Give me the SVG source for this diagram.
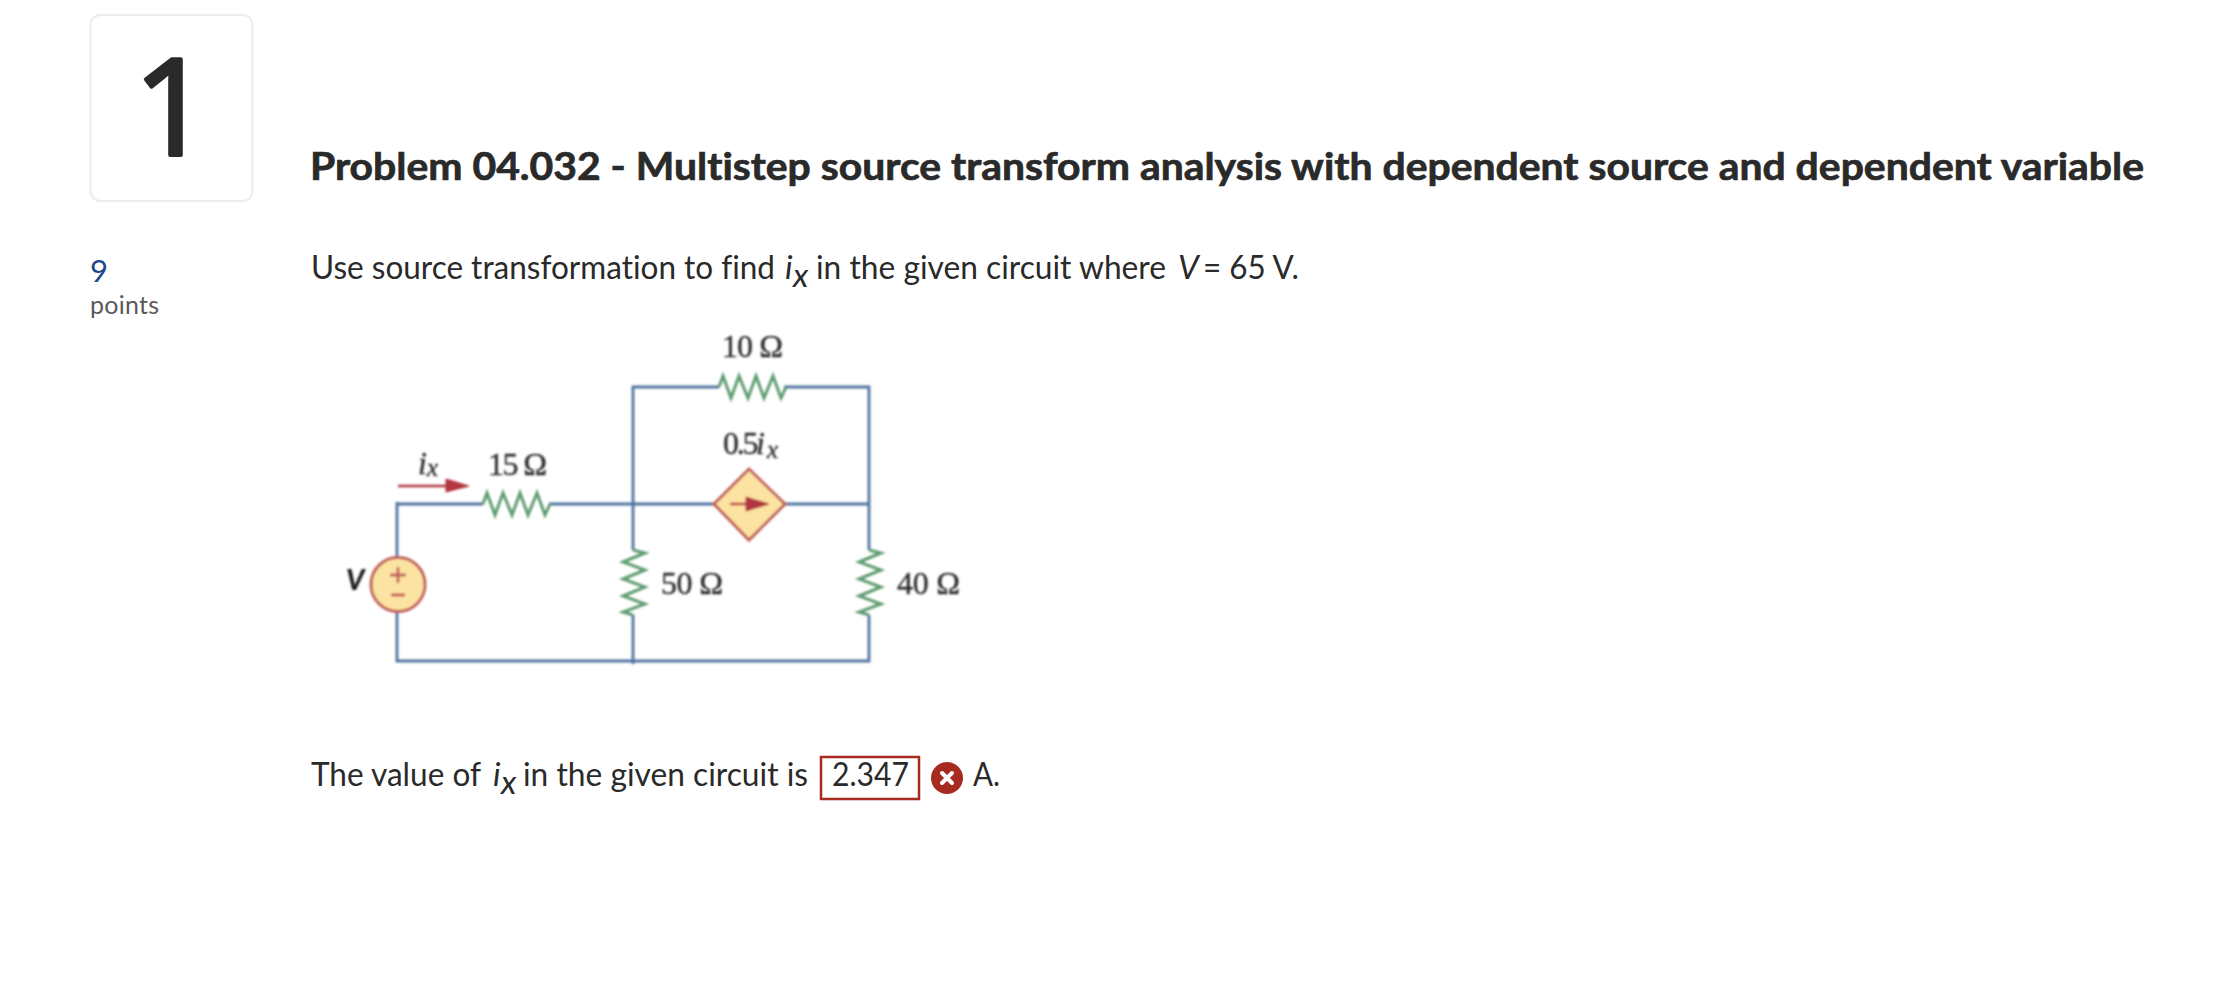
<svg xmlns="http://www.w3.org/2000/svg" width="2236" height="1004" viewBox="0 0 2236 1004">
<style>
text{font-family:"Lato","Liberation Sans",sans-serif;fill:#2a2a2a;font-variant-ligatures:none}
.body{font-size:33px}
.sub{font-size:33px;font-style:italic}
.ser{font-family:"Liberation Serif","Times New Roman",serif;font-size:32px;fill:#2e2e2e;stroke:#2e2e2e;stroke-width:.4}
.wire{fill:none;stroke:#50739f;stroke-width:2.8}
.res{fill:none;stroke:#5f9c70;stroke-width:3}
.sym{fill:#fde3a2;stroke:#c1605a;stroke-width:3}
.red{fill:#b23540;stroke:#b23540}
</style>
<defs><filter id="soft" x="-5%" y="-5%" width="110%" height="110%"><feGaussianBlur stdDeviation="0.8"/></filter></defs>
<rect width="2236" height="1004" fill="#fff"/>
<g id="number-card">
<rect x="90.500" y="15" width="162" height="186" rx="10" fill="#fff" stroke="#ececec" stroke-width="2"/>
<text x="172" y="155" text-anchor="middle" font-size="134" style="font-family:'Open Sans',sans-serif;stroke:#2a2a2a;stroke-width:4;stroke-linejoin:round">1</text>
</g>
<g id="points">
<text x="90" y="282" font-size="31" style="fill:#1f4788">9</text>
<text x="90" y="314" font-size="25" textLength="69" style="fill:#5a5a5a">points</text>
</g>
<g id="title"><text x="310" y="180" font-size="38" font-weight="700" textLength="1834" lengthAdjust="spacingAndGlyphs" style="stroke:#2a2a2a;stroke-width:.7">Problem 04.032 - Multistep source transform analysis with dependent source and dependent variable</text></g>
<g id="question">
<text class="body" x="311" y="279" style="font-size:32px" textLength="464" lengthAdjust="spacingAndGlyphs">Use source transformation to find</text>
<text class="sub" x="785" y="279">i</text>
<text class="sub" x="793" y="287">x</text>
<text class="body" x="816" y="279" textLength="350" lengthAdjust="spacingAndGlyphs">in the given circuit where</text>
<text class="sub" x="1178" y="279">V</text>
<text class="body" x="1203" y="279" textLength="96" lengthAdjust="spacingAndGlyphs">= 65 V.</text>
</g>
<g id="circuit" filter="url(#soft)">
<g id="connectors">
<path class="wire" d="M397 502V557M397 612V661H869V615M483 504H397M549 504H714M785 504H869M719 387H633V550M633 615V664M784 387H869V550"/>
</g>
<g id="r10"><path class="res" d="M719 387L723 376L731 398L739 376L748 398L756 376L764 398L773 376L781 398L786 387"/><text class="ser" x="722" y="357" textLength="61">10 Ω</text></g>
<g id="r15"><path class="res" d="M483 504L487 493L495 515L503 493L512 515L520 493L528 515L537 493L545 515L550 504"/><text class="ser" x="488" y="475" textLength="59">15 Ω</text></g>
<g id="r50"><path class="res" d="M633 550L645 553L623 562L645 570L623 579L645 587L623 596L645 604L623 612L633 615"/><text class="ser" x="661" y="594" textLength="62">50 Ω</text></g>
<g id="r40"><path class="res" d="M869 550L881 553L859 562L881 570L859 579L881 587L859 596L881 604L859 612L869 615"/><text class="ser" x="897" y="594" textLength="63">40 Ω</text></g>
<g id="ix-label">
<path class="red" stroke-width="2.500" d="M398 486H448" fill="none"/>
<path class="red" stroke="none" d="M446 479L469 486L446 492Z"/>
<text class="ser" x="418" y="474" style="font-style:italic">i</text>
<text class="ser" x="427" y="476" style="font-style:italic;font-size:25px">x</text>
</g>
<g id="dep-source">
<path class="sym" d="M749 469L785 504L749 540L714 504Z"/>
<path class="red" stroke-width="2.500" d="M730 504H748" fill="none"/>
<path class="red" stroke="none" d="M746 497L769 504L746 511Z"/>
<text class="ser" x="723" y="454" textLength="42">0.5<tspan font-style="italic">i</tspan></text>
<text class="ser" x="767" y="458" style="font-style:italic;font-size:25px">x</text>
</g>
<g id="source">
<circle class="sym" cx="398" cy="584.500" r="27"/>
<path fill="none" stroke="#c1605a" stroke-width="2.800" d="M390 575H406M398 567V583M391 595H405"/>
<text x="346" y="590" font-size="28" font-style="italic" font-weight="900" style="fill:#1c1c1c">V</text>
</g>
</g>
<g id="answer">
<text class="body" x="311" y="786" textLength="170" lengthAdjust="spacingAndGlyphs">The value of</text>
<text class="sub" x="493" y="786">i</text>
<text class="sub" x="501" y="794">x</text>
<text class="body" x="523" y="786" textLength="285" lengthAdjust="spacingAndGlyphs">in the given circuit is</text>
<rect x="821" y="757" width="98" height="42" fill="#fff" stroke="#a62b21" stroke-width="2.500"/>
<text class="body" x="832" y="786" textLength="77" lengthAdjust="spacingAndGlyphs">2.347</text>
<circle cx="947" cy="778" r="16" fill="#a62b21"/>
<path d="M942 773L952 783M952 773L942 783" stroke="#fff" stroke-width="4" stroke-linecap="round"/>
<text class="body" x="973" y="786" textLength="27" lengthAdjust="spacingAndGlyphs">A.</text>
</g>
</svg>
